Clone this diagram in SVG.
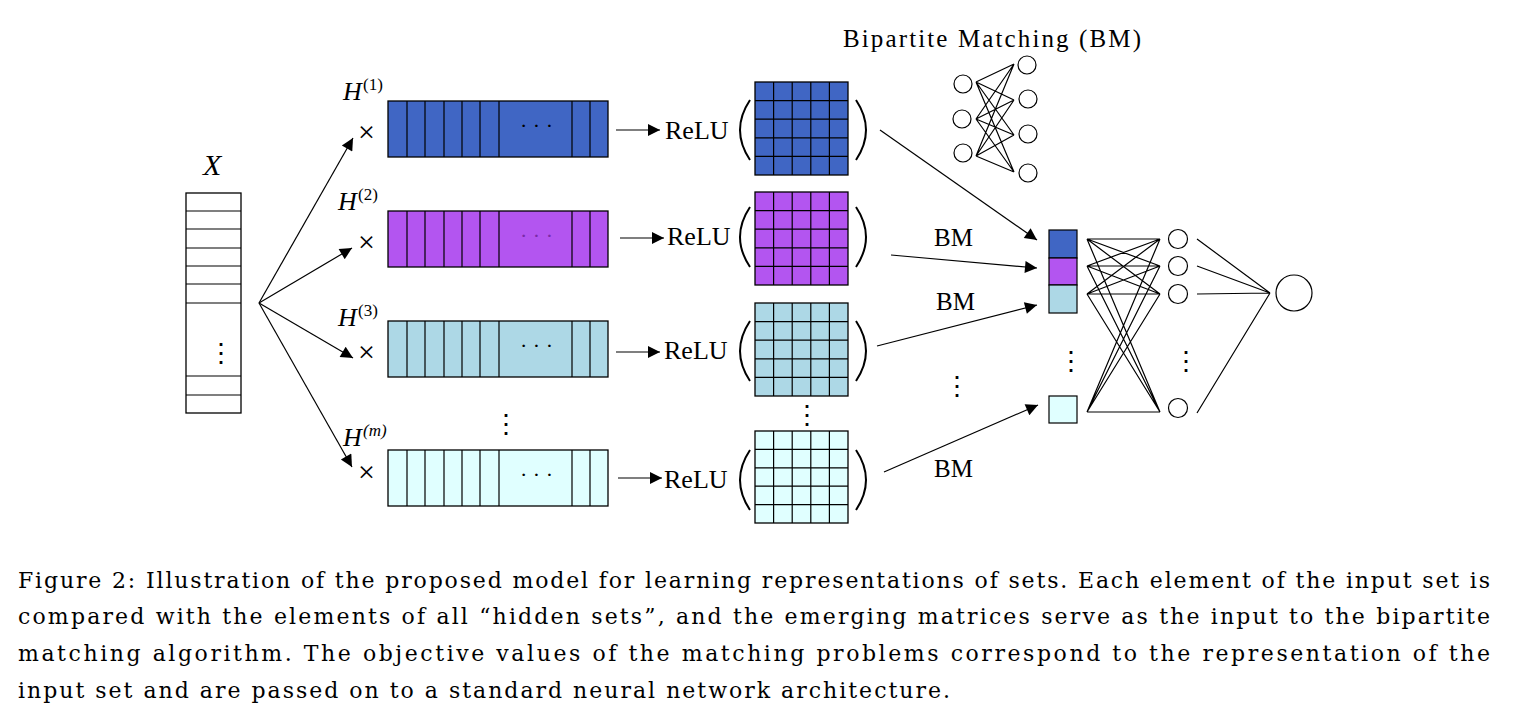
<svg xmlns="http://www.w3.org/2000/svg" width="1524" height="712" viewBox="0 0 1524 712">
<style>
text{font-family:"Liberation Serif","DejaVu Serif",serif;fill:#000}
.i{font-style:italic}
.ln{stroke:#000;stroke-width:1.2;fill:none}
.ar{stroke:#000;stroke-width:1.2;fill:none;marker-end:url(#a)}
.pa{stroke:#000;stroke-width:2;fill:none}
.c{fill:#fff;stroke:#000;stroke-width:1.2}
.b{fill:#4066c4}.p{fill:#b355f0}.l{fill:#add8e6}.y{fill:#e0ffff}
.x{font-size:30px}
.cap text{font-family:"DejaVu Serif",serif;font-size:22px}
</style>
<defs>
<marker id="a" viewBox="0 0 10 10" refX="10" refY="5" markerWidth="16" markerHeight="12" markerUnits="userSpaceOnUse" orient="auto"><path d="M0,0L10,5L0,10z"/></marker>
</defs>
<rect width="1524" height="712" fill="#fff"/>
<g id="X">
<text class="i" x="203" y="175" font-size="30">X</text>
<rect x="186" y="193" width="55" height="220" fill="#fff" stroke="#000" stroke-width="1.3"/>
<path class="ln" d="M186,211H241M186,229H241M186,248H241M186,266H241M186,284H241M186,303H241M186,376H241M186,395H241"/>
<text x="208" y="362" font-size="26">⋮</text>
</g>
<g id="H1">
<text class="i" x="343" y="100" font-size="26">H</text><text x="363" y="90" font-size="17">(1)</text>
<text class="x" x="358" y="142">×</text>
<rect class="b" x="388" y="101" width="220" height="56" stroke="#000" stroke-width="1.3"/>
<path class="ln" d="M407,101V157M425,101V157M444,101V157M462,101V157M480,101V157M499,101V157M572,101V157M590,101V157"/>
<text x="520" y="133" font-size="22">· · ·</text>
</g>
<g id="H2">
<text class="i" x="338" y="210" font-size="26">H</text><text x="358" y="200" font-size="17">(2)</text>
<text class="x" x="358" y="252">×</text>
<rect class="p" x="388" y="211" width="220" height="56" stroke="#000" stroke-width="1.3"/>
<path class="ln" d="M407,211V267M425,211V267M444,211V267M462,211V267M480,211V267M499,211V267M572,211V267M590,211V267"/>
<text x="520" y="243" font-size="22" style="fill:#7a2aa8">· · ·</text>
</g>
<g id="H3">
<text class="i" x="338" y="326" font-size="26">H</text><text x="358" y="316" font-size="17">(3)</text>
<text class="x" x="358" y="362">×</text>
<rect class="l" x="388" y="321" width="220" height="56" stroke="#000" stroke-width="1.3"/>
<path class="ln" d="M407,321V377M425,321V377M444,321V377M462,321V377M480,321V377M499,321V377M572,321V377M590,321V377"/>
<text x="520" y="353" font-size="22">· · ·</text>
</g>
<text x="493" y="433" font-size="26">⋮</text>
<g id="Hm">
<text class="i" x="343" y="446" font-size="26">H</text><text x="363" y="436" font-size="17" font-style="italic">(m)</text>
<text class="x" x="358" y="482">×</text>
<rect class="y" x="388" y="450" width="220" height="56" stroke="#000" stroke-width="1.3"/>
<path class="ln" d="M407,450V506M425,450V506M444,450V506M462,450V506M480,450V506M499,450V506M572,450V506M590,450V506"/>
<text x="520" y="482" font-size="22">· · ·</text>
</g>
<g id="M1">
<text x="665" y="139" font-size="26">ReLU</text>
<path class="pa" d="M750,100Q730,130 750,160M856,100Q876,130 856,160"/>
<rect class="b" x="755" y="82" width="93" height="93" stroke="#000" stroke-width="1.3"/>
<path class="ln" d="M773.6,82V175M792.2,82V175M810.8,82V175M829.4,82V175M755,100.6H848M755,119.2H848M755,137.8H848M755,156.4H848"/>
</g>
<g id="M2">
<text x="667" y="245" font-size="26">ReLU</text>
<path class="pa" d="M750,207Q730,237 750,267M856,207Q876,237 856,267"/>
<rect class="p" x="755" y="192" width="93" height="93" stroke="#000" stroke-width="1.3"/>
<path class="ln" d="M773.6,192V285M792.2,192V285M810.8,192V285M829.4,192V285M755,210.6H848M755,229.2H848M755,247.8H848M755,266.4H848"/>
</g>
<g id="M3">
<text x="664" y="359" font-size="26">ReLU</text>
<path class="pa" d="M750,321Q730,351 750,381M856,321Q876,351 856,381"/>
<rect class="l" x="755" y="303" width="93" height="93" stroke="#000" stroke-width="1.3"/>
<path class="ln" d="M773.6,303V396M792.2,303V396M810.8,303V396M829.4,303V396M755,321.6H848M755,340.2H848M755,358.8H848M755,377.4H848"/>
</g>
<text x="794" y="424" font-size="26">⋮</text>
<g id="Mm">
<text x="664" y="488" font-size="26">ReLU</text>
<path class="pa" d="M750,450Q730,480 750,510M856,450Q876,480 856,510"/>
<rect class="y" x="755" y="431" width="93" height="92" stroke="#000" stroke-width="1.3"/>
<path class="ln" d="M773.6,431V523M792.2,431V523M810.8,431V523M829.4,431V523M755,449.4H848M755,467.8H848M755,486.2H848M755,504.6H848"/>
</g>
<g id="BMgraph">
<text x="843" y="47" font-size="25" textLength="298" lengthAdjust="spacing">Bipartite Matching (BM)</text>
<path class="ln" d="M976,82L1014,64M976,82L1014,100M976,82L1014,135M976,82L1014,172M976,119L1014,64M976,119L1014,100M976,119L1014,135M976,119L1014,172M976,156L1014,64M976,156L1014,100M976,156L1014,135M976,156L1014,172"/>
<circle class="c" cx="963" cy="84" r="9"/><circle class="c" cx="962" cy="119" r="9"/><circle class="c" cx="963" cy="153" r="9"/>
<circle class="c" cx="1027" cy="65" r="9"/><circle class="c" cx="1028" cy="99" r="9"/><circle class="c" cx="1028" cy="134" r="9"/><circle class="c" cx="1028" cy="173" r="9"/>
</g>
<g id="connectors">
<path class="ar" d="M259,303L353,138"/><path class="ar" d="M259,303L352,248"/><path class="ar" d="M259,303L353,358"/><path class="ar" d="M259,303L352,467"/>
<path class="ar" d="M616,130H660"/><path class="ar" d="M620,238H664"/><path class="ar" d="M616,352H660"/><path class="ar" d="M618,478H662"/>
<path class="ar" d="M880,130L1037,240"/><path class="ar" d="M891,255L1037,268"/><path class="ar" d="M877,346L1037,305"/><path class="ar" d="M884,472L1038,405"/>
</g>
<text x="934" y="246" font-size="25">BM</text>
<text x="936" y="310" font-size="25">BM</text>
<text x="944" y="395" font-size="26">⋮</text>
<text x="934" y="477" font-size="25">BM</text>
<g id="vec">
<rect class="b" x="1049" y="230" width="28" height="28" stroke="#000" stroke-width="1.2"/>
<rect class="p" x="1049" y="258" width="28" height="27" stroke="#000" stroke-width="1.2"/>
<rect class="l" x="1049" y="285" width="28" height="28" stroke="#000" stroke-width="1.2"/>
<text x="1058" y="370" font-size="26">⋮</text>
<rect class="y" x="1049" y="396" width="28" height="27" stroke="#000" stroke-width="1.2"/>
</g>
<g id="net">
<path class="ln" d="M1087,239L1160,239M1087,239L1160,266M1087,239L1160,294M1087,239L1160,412M1087,266L1160,239M1087,266L1160,266M1087,266L1160,294M1087,266L1160,412M1087,294L1160,239M1087,294L1160,266M1087,294L1160,294M1087,294L1160,412M1087,412L1160,239M1087,412L1160,266M1087,412L1160,294M1087,412L1160,412"/>
<circle class="c" cx="1178" cy="239" r="9.5"/><circle class="c" cx="1178" cy="266" r="9.5"/><circle class="c" cx="1178" cy="294" r="9.5"/><circle class="c" cx="1178" cy="408" r="9.5"/>
<text x="1173" y="370" font-size="26">⋮</text>
<path class="ln" d="M1197,239L1270,293M1197,266L1270,293M1197,294L1270,293M1197,413L1270,293"/>
<circle class="c" cx="1294" cy="293" r="18"/>
</g>
<g id="caption" class="cap">
<text x="18" y="588" textLength="1472" lengthAdjust="spacing">Figure 2: Illustration of the proposed model for learning representations of sets. Each element of the input set is</text>
<text x="18" y="624" textLength="1472" lengthAdjust="spacing">compared with the elements of all “hidden sets”, and the emerging matrices serve as the input to the bipartite</text>
<text x="18" y="661" textLength="1472" lengthAdjust="spacing">matching algorithm.  The objective values of the matching problems correspond to the representation of the</text>
<text x="18" y="698" textLength="932" lengthAdjust="spacing">input set and are passed on to a standard neural network architecture.</text>
</g>
</svg>
